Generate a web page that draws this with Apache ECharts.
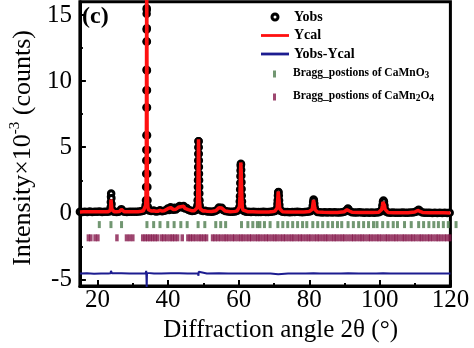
<!DOCTYPE html>
<html>
<head>
<meta charset="utf-8">
<script src="https://cdn.jsdelivr.net/npm/echarts@6/dist/echarts.min.js"></script>
<style>
  html, body { margin: 0; padding: 0; background: #fff; }
  #chart { width: 474px; height: 348px; }
</style>
</head>
<body>
<div id="chart"></div>
<script>
// Rietveld refinement plot, panel (c): observed, calculated and difference
// profiles with the Bragg reflection markers of both phases.
const SERIF = "'Liberation Serif','Times New Roman',serif";

// Observed intensity (x10^3 counts) as [2θ, I] pairs
const observed = [
  [15.0,0.12],[15.7,0.10],[16.4,0.13],[17.1,0.11],[17.8,0.14],[18.5,0.11],[19.2,0.13],[19.9,0.12],
  [20.6,0.14],[21.3,0.11],[22.0,0.13],[22.7,0.12],[23.3,0.15],
  [23.62,0.22],[23.70,0.45],[23.76,0.85],[23.81,1.25],[23.86,1.5],[23.92,1.15],[23.97,0.7],[24.04,0.35],[24.15,0.18],
  [24.7,0.12],[25.4,0.11],[26.0,0.13],[26.5,0.2],[26.75,0.32],[27.0,0.17],[27.6,0.12],[28.3,0.11],
  [29.0,0.13],[29.7,0.12],[30.4,0.13],[31.1,0.12],[31.8,0.14],[32.4,0.16],[33.0,0.2],[33.4,0.32],[33.62,0.6],
  [33.72,1.0],[33.76,2.0],[33.79,3.0],[33.81,4.0],[33.83,4.8],[33.85,5.9],[33.87,8.0],[33.88,9.3],
  [33.89,10.85],[33.90,13.0],[33.91,13.9],[33.92,15.1],[33.93,15.5],
  [33.96,15.4],[33.97,14.0],[33.98,13.0],[34.00,10.8],[34.01,9.3],[34.02,8.0],[34.04,5.9],[34.05,4.8],
  [34.07,4.0],[34.09,3.0],[34.12,2.0],[34.17,1.0],[34.26,0.5],[34.4,0.3],
  [34.6,0.22],[35.2,0.17],[35.9,0.21],[36.5,0.15],[37.1,0.16],[37.7,0.23],[38.3,0.16],[38.9,0.19],
  [39.4,0.24],[39.9,0.36],[40.3,0.26],[40.7,0.46],[41.1,0.31],[41.5,0.28],[41.85,0.42],[42.2,0.3],
  [42.6,0.38],[42.9,0.47],[43.25,0.56],[43.6,0.5],[44.0,0.44],[44.4,0.56],[44.8,0.36],[45.25,0.41],
  [45.7,0.28],[46.2,0.22],[46.8,0.18],[47.4,0.2],[47.9,0.26],[48.2,0.4],
  [48.30,0.6],[48.36,1.0],[48.40,1.5],[48.44,2.0],[48.47,2.5],[48.50,3.0],[48.52,3.5],[48.54,4.0],
  [48.56,4.5],[48.58,5.0],[48.61,5.45],[48.64,5.45],[48.67,5.0],[48.69,4.5],[48.71,4.0],[48.73,3.5],
  [48.75,3.0],[48.78,2.5],[48.81,2.0],[48.85,1.5],[48.90,1.0],[48.96,0.6],[49.05,0.35],
  [49.4,0.22],[49.9,0.17],[50.5,0.2],[51.1,0.15],[51.7,0.14],[52.3,0.13],[52.9,0.15],[53.5,0.2],
  [54.0,0.28],[54.4,0.45],[54.8,0.34],[55.2,0.42],[55.6,0.25],[56.2,0.17],[56.9,0.14],[57.6,0.13],
  [58.3,0.12],[59.0,0.15],[59.6,0.2],[60.0,0.3],
  [60.22,0.5],[60.30,0.9],[60.36,1.3],[60.41,1.8],[60.45,2.3],[60.49,2.8],[60.53,3.25],[60.57,3.6],
  [60.62,3.75],[60.67,3.7],[60.71,3.3],[60.75,2.85],[60.79,2.35],[60.83,1.85],[60.88,1.35],[60.94,0.9],
  [61.02,0.5],[61.15,0.27],
  [61.5,0.17],[62.1,0.13],[62.8,0.12],[63.5,0.11],[64.2,0.13],[64.9,0.1],[65.6,0.11],[66.3,0.1],
  [67.0,0.12],[67.7,0.1],[68.4,0.11],[69.1,0.12],[69.7,0.14],[70.3,0.17],[70.7,0.25],
  [70.9,0.4],[70.98,0.7],[71.05,1.0],[71.12,1.35],[71.2,1.6],[71.3,1.62],[71.38,1.35],[71.45,1.0],
  [71.53,0.65],[71.64,0.35],[71.8,0.2],
  [72.4,0.13],[73.1,0.11],[73.8,0.1],[74.5,0.09],[75.2,0.11],[75.9,0.1],[76.6,0.12],[77.3,0.1],
  [78.0,0.09],[78.7,0.1],[79.4,0.12],[80.0,0.14],[80.5,0.18],
  [80.85,0.3],[80.98,0.55],[81.1,0.85],[81.22,1.05],[81.33,1.0],[81.44,0.75],[81.55,0.45],[81.7,0.25],
  [82.3,0.11],[83.0,0.08],[83.7,0.07],[84.4,0.09],[85.1,0.07],[85.8,0.08],[86.5,0.06],[87.2,0.08],
  [87.9,0.07],[88.6,0.06],[89.3,0.09],[89.9,0.12],[90.4,0.18],
  [90.7,0.28],[90.95,0.36],[91.2,0.3],[91.5,0.16],
  [92.1,0.09],[92.8,0.07],[93.5,0.06],[94.2,0.08],[94.9,0.06],[95.6,0.05],[96.3,0.07],[97.0,0.05],
  [97.7,0.06],[98.4,0.05],[99.1,0.07],[99.7,0.09],[100.2,0.15],
  [100.55,0.3],[100.72,0.6],[100.88,0.88],[101.03,0.97],[101.18,0.88],[101.33,0.6],[101.5,0.3],[101.7,0.15],
  [102.3,0.07],[103.0,0.05],[103.7,0.06],[104.4,0.04],[105.1,0.05],[105.8,0.04],[106.5,0.06],[107.2,0.05],
  [107.9,0.04],[108.6,0.06],[109.3,0.07],[109.9,0.1],[110.4,0.15],
  [110.75,0.22],[111.0,0.27],[111.25,0.22],[111.5,0.14],
  [112.1,0.07],[112.8,0.05],[113.5,0.04],[114.2,0.05],[114.9,0.03],[115.6,0.04],[116.3,0.03],[117.0,0.05],
  [117.7,0.03],[118.4,0.04],[119.1,0.03],[119.8,0.04]
];

// Calculated profile
const calculated = [
  [15,0.11],[16,0.12],[17,0.12],[18,0.12],[19,0.12],[20,0.13],[21,0.12],[22,0.12],[23,0.13],[23.4,0.15],
  [23.62,0.22],[23.70,0.42],[23.76,0.75],[23.81,1.05],[23.86,1.2],[23.92,0.95],[23.97,0.6],[24.04,0.32],[24.15,0.17],
  [24.7,0.12],[25.5,0.12],[26.2,0.14],[26.5,0.19],[26.75,0.3],[27.0,0.17],[27.6,0.12],[28.5,0.12],[29.5,0.12],
  [30.5,0.12],[31.5,0.13],[32.4,0.16],[33.0,0.2],[33.4,0.31],[33.62,0.6],[33.72,1.1],[33.79,2.8],[33.85,6.3],
  [33.89,11.6],[33.92,15.9],[33.945,16.3],[33.97,15.4],[34.0,11.6],[34.04,6.4],[34.09,3.1],[34.17,1.05],
  [34.26,0.5],[34.4,0.3],[34.6,0.21],[35.2,0.17],[35.9,0.2],[36.5,0.16],[37.1,0.16],[37.7,0.22],[38.3,0.17],
  [38.9,0.19],[39.4,0.23],[39.9,0.35],[40.3,0.27],[40.7,0.44],[41.1,0.31],[41.5,0.29],[41.85,0.4],[42.2,0.31],
  [42.6,0.37],[42.9,0.46],[43.25,0.54],[43.6,0.5],[44.0,0.45],[44.4,0.54],[44.8,0.37],[45.25,0.4],[45.7,0.28],
  [46.2,0.22],[46.8,0.19],[47.4,0.2],[47.9,0.26],[48.2,0.4],[48.30,0.58],[48.40,1.45],[48.47,2.5],[48.52,3.55],
  [48.56,4.6],[48.61,5.6],[48.64,5.5],[48.67,4.9],[48.71,3.95],[48.75,2.95],[48.81,1.95],[48.90,0.98],[49.05,0.35],
  [49.4,0.22],[49.9,0.18],[50.5,0.19],[51.1,0.15],[52.3,0.14],[53.5,0.19],[54.0,0.28],[54.4,0.43],[54.8,0.35],
  [55.2,0.4],[55.6,0.25],[56.2,0.17],[57.6,0.13],[59.0,0.15],[59.6,0.2],[60.0,0.3],[60.22,0.5],[60.36,1.3],
  [60.45,2.3],[60.53,3.3],[60.6,3.85],[60.66,3.8],[60.71,3.2],[60.79,2.3],[60.88,1.35],[61.02,0.5],[61.15,0.27],
  [61.5,0.17],[62.5,0.13],[64,0.12],[65.5,0.11],[67,0.11],[68.5,0.11],[69.7,0.14],[70.3,0.17],[70.7,0.26],
  [70.9,0.4],[71.05,1.0],[71.2,1.65],[71.3,1.6],[71.45,0.95],[71.64,0.35],[71.8,0.2],[72.4,0.13],[74,0.1],
  [75.5,0.1],[77,0.1],[78.5,0.1],[80.0,0.14],[80.5,0.18],[80.85,0.3],[81.1,0.82],[81.22,1.0],[81.33,0.98],
  [81.55,0.45],[81.7,0.25],[82.3,0.11],[84,0.08],[86,0.07],[88,0.07],[89.9,0.12],[90.4,0.18],[90.7,0.27],
  [90.95,0.35],[91.2,0.3],[91.5,0.16],[92.1,0.09],[94,0.07],[96,0.06],[98,0.06],[99.7,0.09],[100.2,0.15],
  [100.55,0.3],[100.72,0.58],[100.88,0.86],[101.03,0.98],[101.18,0.9],[101.33,0.6],[101.5,0.3],[101.7,0.15],
  [102.3,0.07],[104,0.05],[106,0.05],[108,0.05],[109.9,0.1],[110.4,0.15],[110.75,0.22],[111.0,0.26],
  [111.25,0.22],[111.5,0.14],[112.1,0.07],[114,0.05],[116,0.04],[118,0.04],[120,0.03]
];

// Difference curve (Yobs - Ycal), shifted down below the markers
const difference = [
  [15,-4.55],[17,-4.53],[19,-4.56],[21,-4.54],[23,-4.55],[23.7,-4.52],[23.81,-4.35],[23.86,-4.2],
  [23.92,-4.38],[24.04,-4.52],[24.4,-4.56],[26.75,-4.53],[29,-4.55],[31.5,-4.54],[33.6,-4.55],[33.76,-4.5],
  [33.79,-4.35],[33.83,-4.6],[33.87,-4.9],[33.9,-5.3],[33.93,-5.6],[33.96,-5.2],[33.99,-4.75],[34.02,-4.5],
  [34.07,-4.45],[34.15,-4.55],[36,-4.55],[38,-4.54],[40.7,-4.52],[43.2,-4.53],[45.5,-4.55],[48.45,-4.55],
  [48.56,-4.66],[48.61,-4.72],[48.67,-4.42],[48.73,-4.48],[48.85,-4.55],[51,-4.55],[54.4,-4.53],[57,-4.55],
  [60.5,-4.55],[60.62,-4.68],[60.71,-4.44],[60.85,-4.56],[63,-4.55],[66,-4.54],[69,-4.55],[71.2,-4.6],
  [71.35,-4.5],[71.5,-4.56],[74,-4.55],[77,-4.54],[79,-4.55],[81.2,-4.52],[81.4,-4.58],[83,-4.55],
  [86,-4.55],[89,-4.54],[91,-4.53],[94,-4.55],[97,-4.55],[99,-4.54],[100.9,-4.52],[101.2,-4.57],
  [103,-4.55],[106,-4.55],[108,-4.54],[111,-4.55],[114,-4.55],[117,-4.54],[120,-4.55]
];

// Bragg reflection positions (2θ) of each phase
const braggCaMnO3 = [
  20.5, 23.8, 26.8, 34.0, 35.9, 37.7, 39.9, 41.7, 43.6, 45.4, 48.5, 50.4, 53.5, 54.9, 56.3,
  60.8, 62.6, 64.0, 65.3, 66.0, 67.3, 68.9,
  71.1, 72.5, 73.9, 75.3, 76.7, 78.1, 79.3,
  81.0, 82.4, 83.8, 85.3, 86.6, 88.0, 89.2,
  91.0, 92.5, 94.0, 95.4, 96.8, 98.2, 99.2,
  100.8, 102.3, 103.8, 105.0, 107.0, 108.9,
  111.0, 112.4, 113.9, 115.3, 116.6, 118.0, 119.4, 121.6
];
const braggCaMn2O4 = [
  17.4, 18.1, 19.3, 20.1, 25.5, 28.2, 29.1, 30.0,
  32.8, 33.5, 34.2, 34.9, 35.6, 36.3, 37.0, 38.1, 38.8, 39.6,
  40.5, 41.2, 41.9, 42.7, 44.0, 45.6, 46.3, 47.0, 47.8, 48.7, 49.4, 50.2, 50.9, 52.6, 53.3,
  54.1, 54.9, 55.8, 56.5, 57.3, 58.2, 58.9, 59.8, 60.6, 61.3, 62.2, 63.0, 63.7, 64.6, 65.4, 66.1,
  67.0, 67.8, 68.5, 69.4, 70.2, 70.9, 71.8, 72.6, 73.3, 74.2, 75.0, 75.7, 76.6, 77.4, 78.1, 79.0,
  79.8, 80.5, 81.4, 82.2, 82.9, 83.8, 84.6, 85.3, 86.2, 87.0, 87.7, 88.6, 89.4, 90.1, 91.0, 91.9,
  92.6, 93.4, 94.3, 95.0, 95.8, 96.7, 97.4, 98.2, 99.1, 99.8, 100.6, 101.5, 102.2, 103.0, 103.9,
  104.6, 105.4, 106.3, 107.0, 107.8, 108.7, 109.4, 110.2, 111.1, 111.8, 112.6, 113.5, 114.2, 115.0,
  115.9, 116.6, 117.4, 118.3, 119.0, 119.8
];
const markerRowCaMnO3 = -0.85;
const markerRowCaMn2O4 = -1.85;

// Axis ticks and labels
const xLabels = [20, 40, 60, 80, 100, 120];
const xMinorTicks = [30, 50, 70, 90, 110];
const yLabels = [-5, 0, 5, 10, 15];
const yMinorTicks = [-2.5, 2.5, 7.5, 12.5];

const NAME_OBS = 'Yobs';
const NAME_CAL = 'Ycal';
const NAME_DIFF = 'Yobs-Ycal';
const NAME_B1 = 'Bragg_postions of CaMnO3';
const NAME_B2 = 'Bragg_postions of CaMn2O4';

const chart = echarts.init(document.getElementById('chart'), null, { renderer: 'canvas' });

const tickFont = { fontFamily: SERIF, fontSize: 25, color: '#000' };
const blackLine = { color: '#000', width: 3 };
const lineIcon = 'path://M0,0H30V3H0Z';

const xBase = { type: 'value', min: 15, max: 120, position: 'bottom', splitLine: { show: false } };
const yBase = { type: 'value', min: -5.5, max: 16, position: 'left', splitLine: { show: false } };

chart.setOption({
  animation: false,
  backgroundColor: '#fff',
  grid: {
    left: 64, right: 23.6, top: 1.75, bottom: 61.4,
    show: true, borderColor: '#000', borderWidth: 3, backgroundColor: 'transparent'
  },
  xAxis: [
    Object.assign({}, xBase, {
      axisLine: { show: true, onZero: false, lineStyle: blackLine },
      axisTick: { show: true, inside: true, length: 6, customValues: xLabels, lineStyle: { color: '#000', width: 2 } },
      axisLabel: Object.assign({ customValues: xLabels, margin: 2 }, tickFont),
      name: 'Diffraction angle 2θ (°)',
      nameLocation: 'middle',
      nameGap: 27,
      nameTextStyle: { fontFamily: SERIF, fontSize: 25, color: '#000', padding: [0, 0, 0, 31] }
    }),
    Object.assign({}, xBase, {
      axisLine: { show: false, onZero: false },
      axisTick: { show: true, inside: true, length: 3, customValues: xMinorTicks, lineStyle: { color: '#000', width: 2 } },
      axisLabel: { show: false }
    })
  ],
  yAxis: [
    Object.assign({}, yBase, {
      axisLine: { show: true, onZero: false, lineStyle: blackLine },
      axisTick: { show: true, inside: true, length: 6, customValues: yLabels, lineStyle: { color: '#000', width: 2 } },
      axisLabel: Object.assign({ customValues: yLabels, margin: 8 }, tickFont),
      name: '{n|Intensity×10}{p|-3}{n| (counts)}',
      nameLocation: 'middle',
      nameGap: 27,
      nameTextStyle: {
        padding: [0, 8, 0, 0],
        rich: {
          n: { fontFamily: SERIF, fontSize: 26, color: '#000', lineHeight: 28, verticalAlign: 'bottom' },
          p: { fontFamily: SERIF, fontSize: 15, color: '#000', lineHeight: 15, verticalAlign: 'top' }
        }
      }
    }),
    Object.assign({}, yBase, {
      axisLine: { show: false, onZero: false },
      axisTick: { show: true, inside: true, length: 3, customValues: yMinorTicks, lineStyle: { color: '#000', width: 2 } },
      axisLabel: { show: false }
    })
  ],
  legend: [
    {
      orient: 'vertical', align: 'left', left: 261, top: 8, padding: 0,
      itemWidth: 28, itemHeight: 6, itemGap: 0.5,
      selectedMode: false,
      textStyle: { fontFamily: SERIF, fontSize: 14, fontWeight: 'bold', color: '#000', lineHeight: 18 },
      data: [
        { name: NAME_OBS, icon: 'circle', itemStyle: { color: '#fff', borderColor: '#000', borderWidth: 3 } },
        { name: NAME_CAL, icon: lineIcon, itemStyle: { color: '#ff1010', borderWidth: 0 } },
        { name: NAME_DIFF, icon: lineIcon, itemStyle: { color: '#1c1c90', borderWidth: 0 } }
      ]
    },
    {
      orient: 'vertical', align: 'left', left: 273, top: 65, padding: 0,
      itemWidth: 3, itemHeight: 7, itemGap: 7,
      selectedMode: false,
      data: [
        { name: NAME_B1, icon: 'rect' },
        { name: NAME_B2, icon: 'rect' }
      ],
      formatter: function (name) {
        if (name === NAME_B1) return '{t|Bragg_postions of CaMnO}{s|3}';
        return '{t|Bragg_postions of CaMn}{s|2}{t|O}{s|4}';
      },
      textStyle: {
        padding: [0, 0, 0, 12],
        rich: {
          t: { fontFamily: SERIF, fontSize: 11.5, fontWeight: 'bold', color: '#000', lineHeight: 14, verticalAlign: 'top' },
          s: { fontFamily: SERIF, fontSize: 9.5, fontWeight: 'bold', color: '#000', lineHeight: 10, verticalAlign: 'bottom', padding: [6, 0, 0, 0] }
        }
      }
    }
  ],
  graphic: [
    { type: 'text', left: 82, top: 5, style: { text: '(c)', font: "bold 24px 'Liberation Serif', serif", fill: '#000' } }
  ],
  series: [
    {
      name: NAME_B1, type: 'scatter', z: 2, clip: false,
      symbol: 'rect', symbolSize: [3, 7],
      itemStyle: { color: '#4f7d4f' },
      data: braggCaMnO3.map(function (a) { return [a, markerRowCaMnO3]; })
    },
    {
      name: NAME_B2, type: 'scatter', z: 2,
      symbol: 'rect', symbolSize: [3.5, 7],
      itemStyle: { color: '#86194c' },
      data: braggCaMn2O4.map(function (a) { return [a, markerRowCaMn2O4]; })
    },
    {
      name: NAME_DIFF, type: 'line', z: 3, symbol: 'none',
      lineStyle: { color: '#1c1c90', width: 2 },
      itemStyle: { color: '#1c1c90' },
      data: difference
    },
    {
      name: NAME_OBS, type: 'scatter', z: 4,
      symbol: 'circle', symbolSize: 5.5,
      itemStyle: { color: '#fff', borderColor: '#000', borderWidth: 3, opacity: 1 },
      data: observed
    },
    {
      name: NAME_CAL, type: 'line', z: 5, symbol: 'none',
      lineStyle: { color: '#ff1010', width: 3.5 },
      itemStyle: { color: '#ff1010' },
      data: calculated
    }
  ]
});
</script>
</body>
</html>
